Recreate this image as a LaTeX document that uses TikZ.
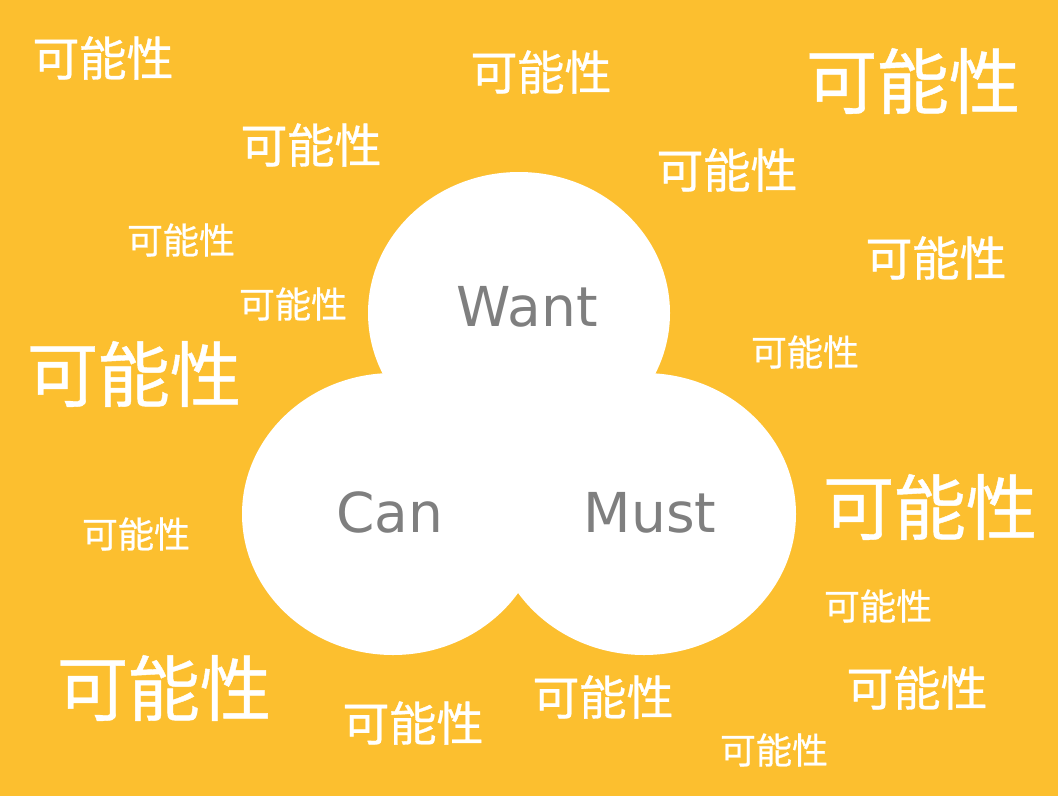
\documentclass[tikz,border=0pt]{standalone}
\usepackage{fontspec}
\setmainfont{DejaVu Sans}
\newfontfamily\cjk[FakeBold=0.6]{Noto Sans CJK JP}
\definecolor{bgorange}{RGB}{252,191,47}
\definecolor{wordgray}{RGB}{127,127,127}
\begin{document}
\begin{tikzpicture}[x=1pt,y=-1pt,
  kl/.style={inner sep=0pt,text=white,font=\cjk\fontsize{47}{47}\selectfont},
  ks/.style={inner sep=0pt,text=white,font=\cjk\fontsize{36}{36}\selectfont},
  kb/.style={inner sep=0pt,text=white,font=\cjk\fontsize{71.5}{71.5}\selectfont},
  word/.style={inner sep=0pt,anchor=base,text=wordgray,font=\fontsize{55}{55}\selectfont},
  blob/.style={fill=white,draw=none}]
\fill[bgorange] (0,0) rectangle (1058,796);
\useasboundingbox (0,0) rectangle (1058,796);
% three ellipses
\fill[blob] (519,313) ellipse [x radius=151, y radius=141];
\fill[blob] (393,514) ellipse [x radius=151, y radius=141];
\fill[blob] (644,514) ellipse [x radius=152, y radius=141];
% words
\node[word] (want) at (527,326) {Want};
\node[word] (can) at (389.5,532) {Can};
\node[word] (must) at (650,532) {Must};
% labels
\node[kl] (k1) at (103,58) {可能性};
\node[kl] (k2) at (541,72) {可能性};
\node[kb] (k3) at (913,81) {可能性};
\node[kl] (k4) at (311,145) {可能性};
\node[kl] (k5) at (727,170) {可能性};
\node[ks] (k6) at (181,240) {可能性};
\node[kl] (k7) at (936,258) {可能性};
\node[ks] (k8) at (293,304) {可能性};
\node[ks] (k9) at (805,352) {可能性};
\node[kb] (k10) at (134,374) {可能性};
\node[kb] (k11) at (930,507) {可能性};
\node[ks] (k12) at (136,534) {可能性};
\node[ks] (k13) at (878,606) {可能性};
\node[kb] (k14) at (164,688) {可能性};
\node[kl] (k15) at (603,697) {可能性};
\node[kl] (k16) at (917,688) {可能性};
\node[kl] (k17) at (413,723) {可能性};
\node[ks] (k18) at (774,750) {可能性};
\end{tikzpicture}
\end{document}
